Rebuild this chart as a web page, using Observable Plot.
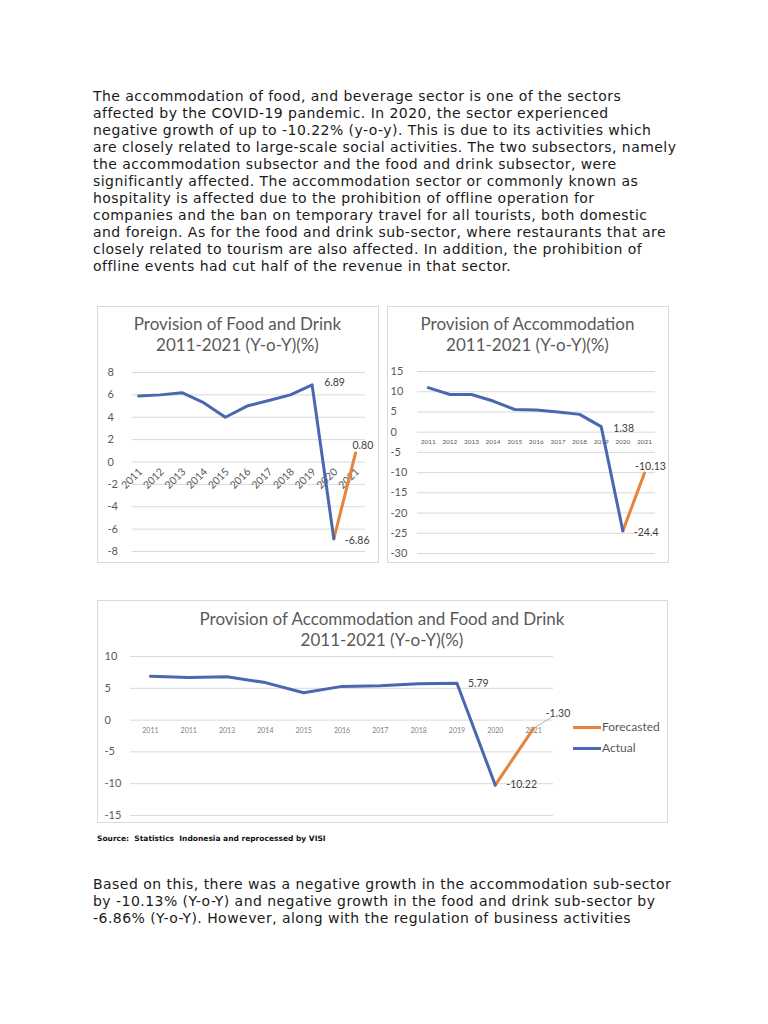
<!DOCTYPE html>
<html><head><meta charset="utf-8">
<script src="https://cdn.jsdelivr.net/npm/d3@7"></script>
<script src="https://cdn.jsdelivr.net/npm/@observablehq/plot@0.6"></script>
<style>
body{margin:0;background:#fff;width:768px;height:1024px;position:relative;overflow:hidden}
.para{position:absolute;left:93px;font-family:"DejaVu Sans";font-size:14px;letter-spacing:0.46px;line-height:17px;color:#1a1a1a;white-space:nowrap}
.box{position:absolute;border:1px solid #d9d9d9;box-sizing:border-box}
.title{position:absolute;font-family:Lato;color:#595959;text-align:center;font-size:17px;line-height:21px}
.chart{position:absolute}
.legend{position:absolute;left:573px;top:716px;font-family:Lato;font-size:12px;color:#595959}
.legend div{height:21px;line-height:21px;white-space:nowrap}
.legend span{display:inline-block;width:28px;height:3px;vertical-align:middle;margin-right:1px}
.source{position:absolute;left:97px;top:834px;font-family:"DejaVu Sans";font-weight:bold;font-size:7.5px;color:#111}
</style></head><body>
<div class="para" style="top:88px">The accommodation of food, and beverage sector is one of the sectors<br>affected by the COVID-19 pandemic. In 2020, the sector experienced<br>negative growth of up to -10.22% (y-o-y). This is due to its activities which<br>are closely related to large-scale social activities. The two subsectors, namely<br>the accommodation subsector and the food and drink subsector, were<br>significantly affected. The accommodation sector or commonly known as<br>hospitality is affected due to the prohibition of offline operation for<br>companies and the ban on temporary travel for all tourists, both domestic<br>and foreign. As for the food and drink sub-sector, where restaurants that are<br>closely related to tourism are also affected. In addition, the prohibition of<br>offline events had cut half of the revenue in that sector.</div>

<div class="box" style="left:97px;top:306px;width:282px;height:257px"></div>
<div class="box" style="left:387px;top:306px;width:282px;height:257px"></div>
<div class="box" style="left:97px;top:600px;width:571px;height:223px"></div>

<div class="title" id="t1" style="left:97px;top:313px;width:281px"></div>
<div class="title" id="t2" style="left:387px;top:313px;width:281px"></div>
<div class="title" id="t3" style="left:97px;top:608px;width:570px"></div>

<div class="chart" id="c1" style="left:97px;top:356px"></div>
<div class="chart" id="c2" style="left:387px;top:356px"></div>
<div class="chart" id="c3" style="left:97px;top:648px"></div>
<div class="legend" id="legend"></div>
<div class="source">Source:&nbsp; Statistics&nbsp; Indonesia and reprocessed by VISI</div>

<div class="para" style="top:876px">Based on this, there was a negative growth in the accommodation sub-sector<br>by -10.13% (Y-o-Y) and negative growth in the food and drink sub-sector by<br>-6.86% (Y-o-Y). However, along with the regulation of business activities</div>

<script>
// ---- data ----
const years = [2011, 2012, 2013, 2014, 2015, 2016, 2017, 2018, 2019, 2020, 2021];
const foodValues = [5.9, 6.0, 6.2, 5.3, 4.0, 5.0, 5.5, 6.0, 6.89, -6.86, 0.80];
const accomValues = [11.0, 9.3, 9.3, 7.7, 5.6, 5.5, 5.0, 4.4, 1.38, -24.4, -10.13];
const totalValues = [6.9, 6.7, 6.8, 5.9, 4.3, 5.3, 5.4, 5.7, 5.79, -10.22, -1.30];
const foodTicks = [8, 6, 4, 2, 0, -2, -4, -6, -8];
const accomTicks = [15, 10, 5, 0, -5, -10, -15, -20, -25, -30];
const totalTicks = [10, 5, 0, -5, -10, -15];
const yearLabels = ["2011","2012","2013","2014","2015","2016","2017","2018","2019","2020","2021"];
const totalYearLabels = ["2011","2011","2013","2014","2015","2016","2017","2018","2019","2020","2021"];
const labelYears = [2019, 2020, 2021];
const foodLabelText = ["6.89", "-6.86", "0.80"];
const accomLabelText = ["1.38", "-24.4", "-10.13"];
const totalLabelText = ["5.79", "-10.22", "-1.30"];
const seriesNames = ["Forecasted", "Actual"];
const titles = [
  ["Provision of Food and Drink", "2011-2021 (Y-o-Y)(%)"],
  ["Provision of Accommodation", "2011-2021 (Y-o-Y)(%)"],
  ["Provision of Accommodation and Food and Drink", "2011-2021 (Y-o-Y)(%)"]
];

const BLUE = "#4A67B0", ORANGE = "#E8833A", GRID = "#d9d9d9", AXIS = "#595959", LABEL = "#404040";
const fmt = d => String(d);

function rows(vals) { return years.map((year, i) => ({year, value: vals[i]})); }
function split(vals) { const r = rows(vals); return {actual: r.slice(0, 10), forecast: r.slice(9)}; }
function labelRows(vals, texts) { return labelYears.map((year, i) => ({year, value: vals[years.indexOf(year)], text: texts[i]})); }

["t1","t2","t3"].forEach((id, i) => { document.getElementById(id).innerHTML = titles[i].join("<br>"); });

const lineMarks = (s) => [
  Plot.line(s.forecast, {x: "year", y: "value", stroke: ORANGE, strokeWidth: 3}),
  Plot.line(s.actual, {x: "year", y: "value", stroke: BLUE, strokeWidth: 3, strokeLinejoin: "round"})
];

const leaderShape = {draw(context, l) { context.moveTo(0, 0); context.lineTo(0, -l); }};

// ---- chart 1 ----
{
  const s = split(foodValues), L = labelRows(foodValues, foodLabelText);
  const p = Plot.plot({
    width: 281, height: 206, marginTop: 16, marginBottom: 11, marginLeft: 35, marginRight: 13,
    style: {fontFamily: "Lato", background: "transparent", overflow: "visible"},
    x: {type: "linear", domain: [2010.72, 2021.46], axis: null},
    y: {domain: [-8, 8], axis: null},
    marks: [
      Plot.gridY(foodTicks, {stroke: GRID, strokeOpacity: 1}),
      Plot.axisY(foodTicks, {label: null, tickFormat: fmt, tickSize: 0, tickPadding: 25, textAnchor: "start", fill: AXIS, fontSize: 11}),
      Plot.text(yearLabels, {x: d => +d, y: d => 0, text: d => d, rotate: -45, textAnchor: "end", dx: 2, dy: 8, fill: AXIS, fontSize: 10.5}),
      ...lineMarks(s),
      Plot.text([L[0]], {x: "year", y: "value", text: "text", textAnchor: "start", dx: 12, dy: -2, fill: LABEL, fontSize: 10.5}),
      Plot.text([L[1]], {x: "year", y: "value", text: "text", textAnchor: "start", dx: 11, dy: 2, fill: LABEL, fontSize: 10.5}),
      Plot.text([L[2]], {x: "year", y: "value", text: "text", textAnchor: "start", dx: -3, dy: -7, fill: LABEL, fontSize: 10.5})
    ]
  });
  document.getElementById("c1").append(p);
}

// ---- chart 2 ----
{
  const s = split(accomValues), L = labelRows(accomValues, accomLabelText);
  const p = Plot.plot({
    width: 281, height: 206, marginTop: 15, marginBottom: 9, marginLeft: 30, marginRight: 13,
    style: {fontFamily: "Lato", background: "transparent", overflow: "visible"},
    x: {type: "linear", domain: [2010.505, 2021.51], axis: null},
    y: {domain: [-30, 15], axis: null},
    marks: [
      Plot.gridY(accomTicks, {stroke: GRID, strokeOpacity: 1}),
      Plot.axisY(accomTicks, {label: null, tickFormat: fmt, tickSize: 0, tickPadding: 27, textAnchor: "start", fill: AXIS, fontSize: 11}),
      Plot.text(yearLabels, {x: d => +d, y: d => 0, text: d => d, dy: 10, fill: AXIS, fontSize: 6.5}),
      ...lineMarks(s),
      Plot.text([L[0]], {x: "year", y: "value", text: "text", textAnchor: "start", dx: 12, dy: 2, fill: LABEL, fontSize: 10.5}),
      Plot.text([L[1]], {x: "year", y: "value", text: "text", textAnchor: "start", dx: 11, dy: 2, fill: LABEL, fontSize: 10.5}),
      Plot.text([L[2]], {x: "year", y: "value", text: "text", textAnchor: "middle", dx: 6, dy: -7, fill: LABEL, fontSize: 10.5})
    ]
  });
  document.getElementById("c2").append(p);
}

// ---- chart 3 ----
{
  const s = split(totalValues), L = labelRows(totalValues, totalLabelText);
  const p = Plot.plot({
    width: 570, height: 174, marginTop: 8, marginBottom: 7, marginLeft: 33, marginRight: 114,
    style: {fontFamily: "Lato", background: "transparent", overflow: "visible"},
    x: {type: "linear", domain: [2010.48, 2021.52], axis: null},
    y: {domain: [-15, 10], axis: null},
    marks: [
      Plot.gridY(totalTicks, {stroke: GRID, strokeOpacity: 1}),
      Plot.axisY(totalTicks, {label: null, tickFormat: fmt, tickSize: 0, tickPadding: 26, textAnchor: "start", fill: AXIS, fontSize: 11}),
      Plot.text(years, {x: d => d, y: d => 0, text: (d, i) => totalYearLabels[i], dy: 11, fill: "#7f7f7f", fontSize: 7}),
      Plot.vector([L[2]], {x: "year", y: "value", length: 22, rotate: 58, anchor: "start", shape: leaderShape, stroke: "#a6a6a6", strokeWidth: 0.8}),
      ...lineMarks(s),
      Plot.text([L[0]], {x: "year", y: "value", text: "text", textAnchor: "start", dx: 11, dy: 0, fill: LABEL, fontSize: 10.5}),
      Plot.text([L[1]], {x: "year", y: "value", text: "text", textAnchor: "start", dx: 11, dy: 0, fill: LABEL, fontSize: 10.5}),
      Plot.text([L[2]], {x: "year", y: "value", text: "text", textAnchor: "start", dx: 12, dy: -15, fill: LABEL, fontSize: 10.5})
    ]
  });
  document.getElementById("c3").append(p);
}

// ---- legend ----
document.getElementById("legend").innerHTML = seriesNames.map((n, i) =>
  `<div><span style="background:${i === 0 ? ORANGE : BLUE}"></span>${n}</div>`).join("");
</script>
</body></html>
